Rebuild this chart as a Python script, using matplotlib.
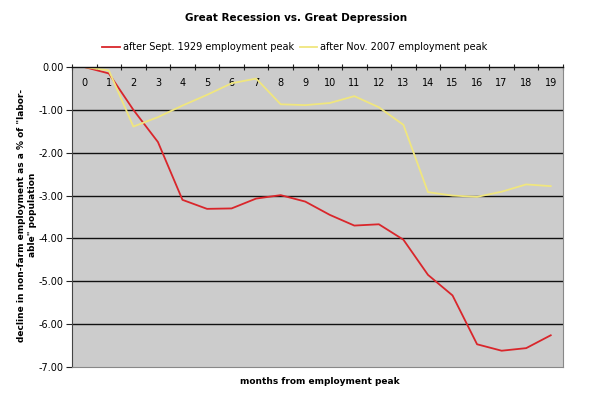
import numpy as np
import matplotlib
matplotlib.use('Agg')
import matplotlib.pyplot as plt
from matplotlib.ticker import FixedLocator, FormatStrFormatter

# months after the employment peak
months = list(range(20))
# 1929 employment peak
dep_1929 = [0.00, -0.15, -1.00, -1.75, -3.10, -3.31, -3.30, -3.07, -2.99, -3.14,
            -3.45, -3.70, -3.67, -4.03, -4.85, -5.33, -6.47, -6.62, -6.56, -6.26]
# 2007 employment peak
rec_2007 = [0.00, -0.08, -1.39, -1.17, -0.90, -0.65, -0.38, -0.27, -0.87, -0.89,
            -0.84, -0.68, -0.94, -1.35, -2.92, -3.00, -3.03, -2.91, -2.74, -2.78]
y_ticks = [0, -1, -2, -3, -4, -5, -6, -7]

plt.rcParams['font.family'] = ['DejaVu Sans']

fig = plt.figure(figsize=(5.89, 4.03), dpi=100)
ax = fig.add_axes([72 / 589, 1 - 367 / 403, (563 - 72) / 589, 300 / 403])
ax.set_facecolor('#cccccc')

for y in y_ticks[1:-1]:
    ax.axhline(y, color='#111111', lw=1.0, zorder=1)

ax.plot(months, dep_1929, color='#d9262b', lw=1.3, zorder=3,
        label='after Sept. 1929 employment peak')
ax.plot(months, rec_2007, color='#f0e67e', lw=1.3, zorder=4,
        label='after Nov. 2007 employment peak')

ax.set_xlim(-0.5, 19.5)
ax.set_ylim(-7, 0)

# category boundaries get tick marks, centres get the labels
ax.xaxis.set_ticks_position('top')
ax.xaxis.set_major_locator(FixedLocator(np.arange(-0.5, 20, 1)))
ax.xaxis.set_major_formatter(plt.NullFormatter())
ax.xaxis.set_minor_locator(FixedLocator(months))
ax.set_xticklabels([str(m) for m in months], minor=True)
ax.tick_params(axis='x', which='major', direction='inout', length=4, width=0.8,
               color='#222222', top=True, bottom=False)
ax.tick_params(axis='x', which='minor', length=0, labelsize=7, pad=-15,
               labeltop=True, labelbottom=False)

ax.set_yticks(y_ticks)
ax.yaxis.set_major_formatter(FormatStrFormatter('%.2f'))
ax.tick_params(axis='y', direction='out', length=4, width=0.8, labelsize=7,
               color='#222222', pad=2)

ax.spines['top'].set_color('#111111')
ax.spines['top'].set_linewidth(1.0)
ax.spines['left'].set_color('#444444')
ax.spines['right'].set_color('#888888')
ax.spines['bottom'].set_color('#888888')
for s in ax.spines.values():
    s.set_zorder(5)

fig.text(296 / 589, 1 - 18 / 403, 'Great Recession vs. Great Depression',
         ha='center', va='center', fontsize=7.5, fontweight='bold')
fig.text(320 / 589, 1 - 382 / 403, 'months from employment peak',
         ha='center', va='center', fontsize=6.5, fontweight='bold')
fig.text(27 / 589, 1 - 215 / 403,
         'decline in non-farm employment as a % of "labor-\nable" population',
         ha='center', va='center', rotation=90, fontsize=6.5, fontweight='bold')

fig.legend(loc='center', bbox_to_anchor=(295 / 589, 1 - 47 / 403), ncol=2,
           frameon=False, fontsize=7, handlelength=1.8, handletextpad=0.3,
           columnspacing=0.6)

fig.savefig('out.png', dpi=100)
